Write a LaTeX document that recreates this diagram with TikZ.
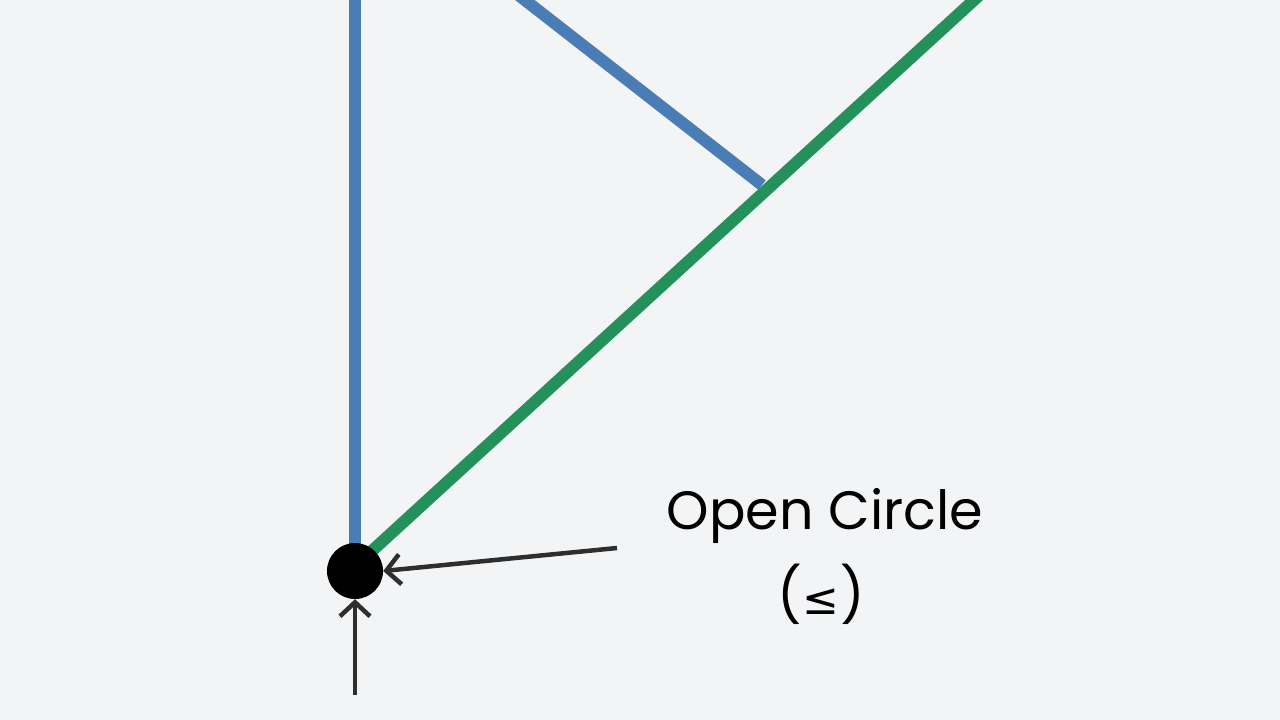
\documentclass[tikz,border=0pt]{standalone}
\usepackage{fontspec}
\setmainfont{Poppins}
\newfontfamily\symfont{DejaVu Sans}
\usetikzlibrary{arrows.meta}
\definecolor{bg}{HTML}{F3F4F6}
\definecolor{lblue}{HTML}{4A7DB5}
\definecolor{lgreen}{HTML}{24905A}
\definecolor{dgray}{HTML}{2E2E2E}
\tikzset{
  blueline/.style={draw=lblue,line width=12pt},
  greenline/.style={draw=lgreen,line width=12pt},
  pointer/.style={draw=dgray,line width=4.5pt,-{Straight Barb[length=14pt,width=30pt,line width=4.5pt]}},
  lbl/.style={font=\fontsize{54}{64}\selectfont,text=black}
}
\begin{document}
\begin{tikzpicture}[x=1pt,y=-1pt]
\fill[bg] (0,0) rectangle (1280,720);
\useasboundingbox (0,0) rectangle (1280,720);
\coordinate (vt) at (355,-10);
\coordinate (vb) at (355,545);
\coordinate (dt) at (512,-10);
\coordinate (db) at (762,185);
\coordinate (gt) at (985,-10);
\coordinate (gb) at (362,560);
\draw[blueline] (vt) -- (vb);
\draw[blueline] (dt) -- (db);
\draw[greenline] (gt) -- (gb);
\node[circle,fill=black,minimum size=56pt,inner sep=0pt] (dot) at (355,571) {};
\coordinate (a1) at (617,548);
\coordinate (a2) at (355,695);
\draw[pointer] (a1) -- (dot.east);
\draw[pointer] (a2) -- (dot.south);
\node[lbl] (t1) at (825,516) {Open Circle};
\node[lbl] (t2) at (821,594) {(\hspace{1pt}{\symfont\fontsize{44}{50}\selectfont ≤}\hspace{1pt})};
\end{tikzpicture}
\end{document}
